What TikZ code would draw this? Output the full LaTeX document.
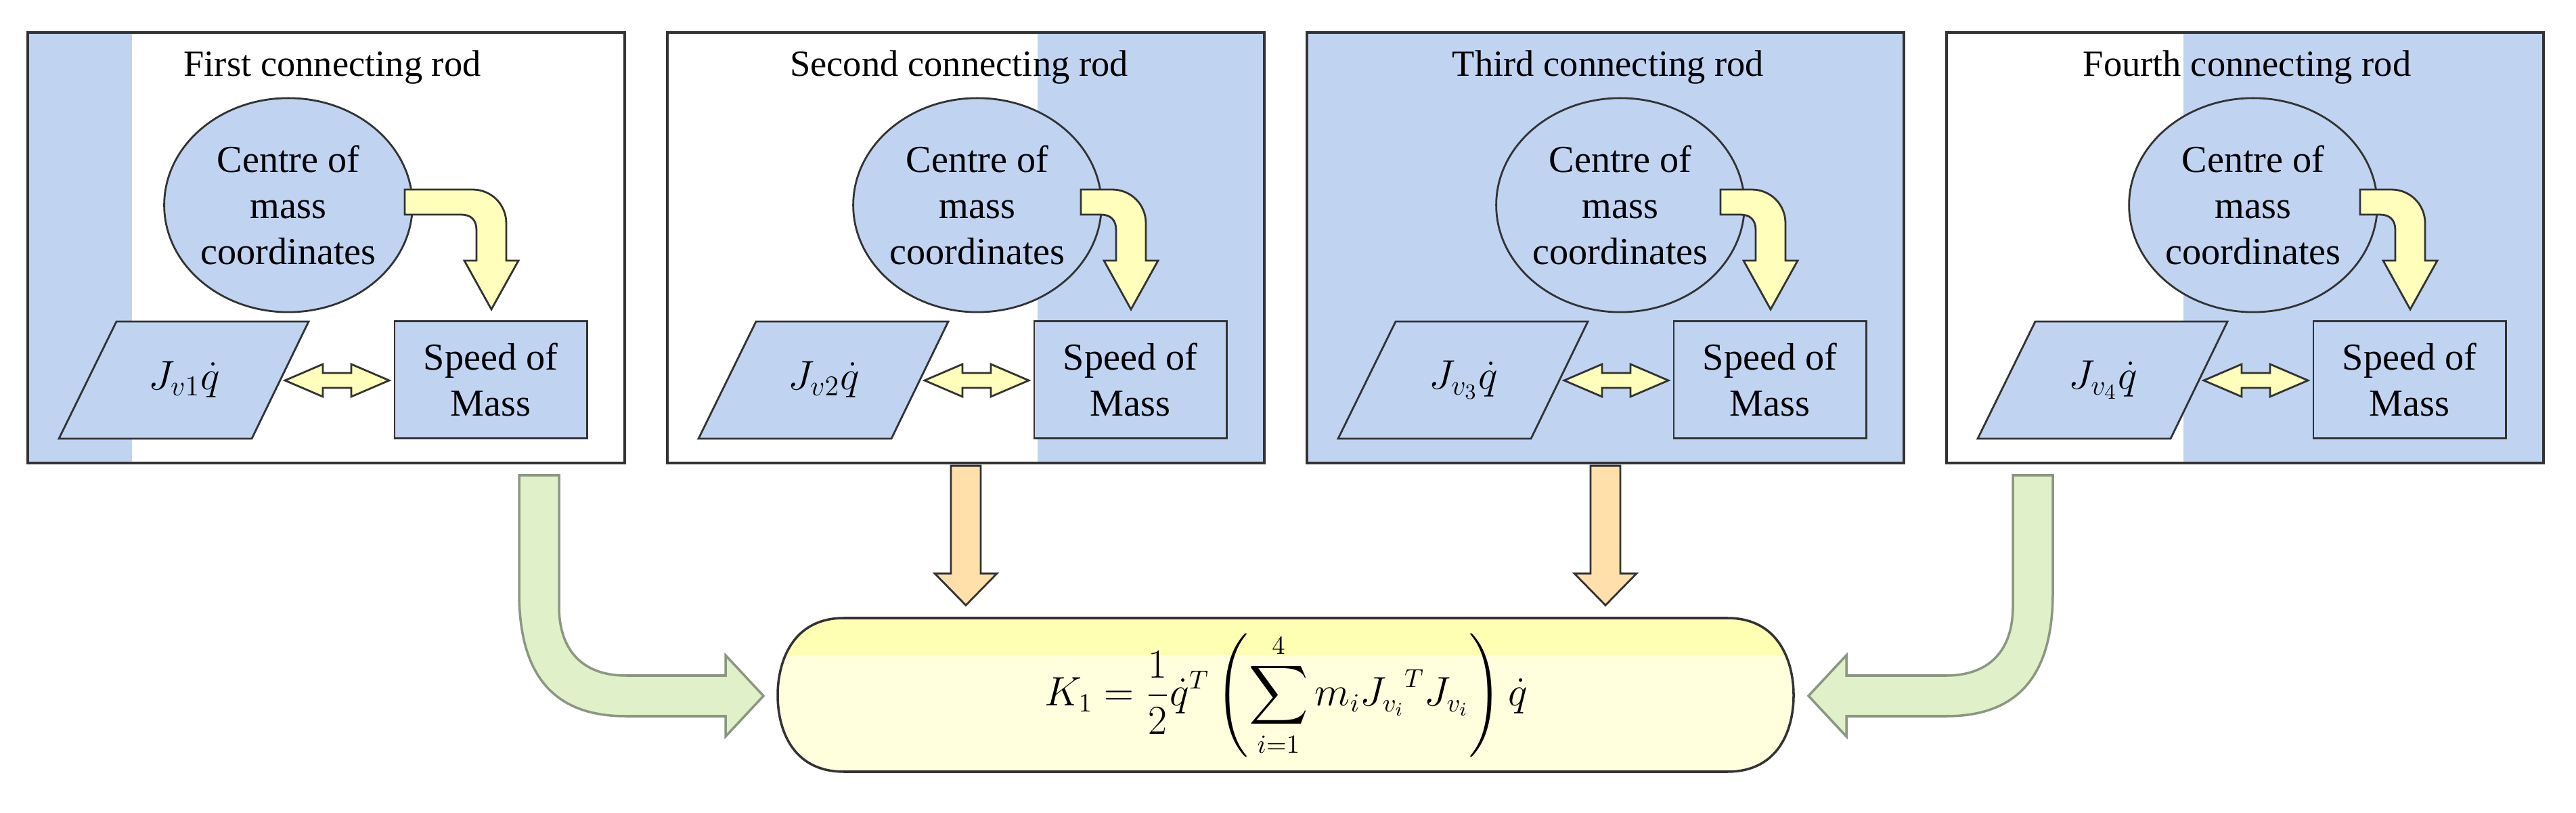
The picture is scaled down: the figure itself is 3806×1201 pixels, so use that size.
\documentclass[tikz,border=0pt]{standalone}
\usepackage{amsmath}
\usepackage{fontspec}
\setmainfont{Liberation Serif}
\usetikzlibrary{positioning}
\usetikzlibrary{calc}
\usetikzlibrary{shapes.geometric}
\definecolor{rodblue}{RGB}{192,212,242}
\definecolor{edgegray}{RGB}{51,51,51}
\definecolor{arrowyellow}{RGB}{255,255,187}
\definecolor{arroworange}{RGB}{255,224,170}
\definecolor{arrowgreen}{RGB}{224,240,200}
\definecolor{greenedge}{RGB}{140,150,130}
\definecolor{capsuletop}{RGB}{255,255,180}
\definecolor{capsulebody}{RGB}{255,255,222}

\begin{document}
\begin{tikzpicture}[x=0.01cm, y=-0.01cm,
                panel/.style={rectangle, draw=edgegray, line width=1.1pt, minimum width=8.82cm, minimum height=6.36cm, inner sep=0},
                bluenode/.style={draw=edgegray, fill=rodblue, line width=0.8pt},
                comnode/.style={ellipse, bluenode, minimum width=3.1cm, minimum height=3.16cm, align=center, inner sep=0, font=\fontsize{16}{19.3}\selectfont},
                speednode/.style={rectangle, bluenode, minimum width=2.84cm, minimum height=1.73cm, align=center, font=\fontsize{16}{19.3}\selectfont},
                blockarrow/.style={draw=edgegray, line width=0.8pt, line join=miter},
                ]
    \useasboundingbox (0,0) rectangle (3806,1201);

    \foreach \L/\rodname/\tx/\ex/\bs/\be/\jac/\s [count=\n] in
        {41/First/450/385/0/154/{J_{v1}}/557,
         986/Second/431/458/547/882/{J_{v2}}/611,
         1931/Third/445/463/0/882/{J_{v_3}}/611,
         2876/Fourth/444/453/350/882/{J_{v_4}}/611}{
        \fill[rodblue] (\L+\bs,48) rectangle (\L+\be,684);
        \node[panel] (frame\n) at (\L+441,366) {};
        \node[anchor=base, font=\fontsize{15.5}{18}\selectfont] (title\n) at (\L+\tx,113) {\rodname\ connecting rod};
        \node[comnode] (com\n) at (\L+\ex,303) {Centre of\\mass\\coordinates};
        \node[speednode] (speed\n) at (\L+684,561) {Speed of\\Mass};
        \coordinate (jc\n) at (\L+231,561);
        \draw[bluenode] ($(jc\n)+(-100,-86)$) -- ($(jc\n)+(184,-86)$) -- ($(jc\n)+(100,87)$) -- ($(jc\n)+(-185,87)$) -- cycle;
        \node[font=\fontsize{18}{20}\selectfont] (jac\n) at (jc\n) {$\jac\dot{q}$};
        % bent arrow from the centre of mass to the speed
        \draw[blockarrow, fill=arrowyellow] (\L+\s,280) -- (\L+657,280)
            .. controls (\L+685,280) and (\L+707,302) .. (\L+707,330) -- (\L+707,385)
            -- (\L+725,385) -- (\L+685,457) -- (\L+645,385) -- (\L+663,385) -- (\L+663,340)
            .. controls (\L+663,325) and (\L+655,317) .. (\L+640,317) -- (\L+\s,317) -- cycle;
        % double arrow between jacobian and speed
        \draw[blockarrow, fill=arrowyellow, shift={(\L+457,562)}]
            (-77,0) -- (-21,-24) -- (-21,-11) -- (21,-11) -- (21,-24) -- (77,0)
            -- (21,24) -- (21,11) -- (-21,11) -- (-21,24) -- cycle;
    }

    \coordinate (kc) at (1900,1027);
    \begin{scope}
        \clip (1247,913) -- (2552,913) .. controls (2630,913) and (2650,980) .. (2650,1027)
            .. controls (2650,1075) and (2630,1140) .. (2552,1140) -- (1247,1140)
            .. controls (1169,1140) and (1149,1075) .. (1149,1027)
            .. controls (1149,980) and (1169,913) .. (1247,913);
        \fill[capsulebody] (1140,900) rectangle (2660,1150);
        \fill[capsuletop] (1140,900) rectangle (2660,968);
    \end{scope}
    \draw[edgegray, line width=1pt] (1247,913) -- (2552,913) .. controls (2630,913) and (2650,980) .. (2650,1027)
        .. controls (2650,1075) and (2630,1140) .. (2552,1140) -- (1247,1140)
        .. controls (1169,1140) and (1149,1075) .. (1149,1027)
        .. controls (1149,980) and (1169,913) .. (1247,913);
    \node[font=\fontsize{16}{18}\selectfont] (kin) at (kc) {$\displaystyle K_1=\frac{1}{2}\dot{q}^T\left(\sum_{i=1}^{4} m_i {J_{v_i}}^T J_{v_i}\right)\dot{q}$};

    % straight arrows from the middle rods
    \foreach \n in {2,3}{
        \draw[blockarrow, fill=arroworange] ($(frame\n.south)+(-22,2)$) -- ($(frame\n.south)+(-22,161)$)
            -- ($(frame\n.south)+(-46,161)$) -- ($(frame\n.south)+(0,208)$) -- ($(frame\n.south)+(46,161)$)
            -- ($(frame\n.south)+(22,161)$) -- ($(frame\n.south)+(22,2)$) -- cycle;
    }

    % curved arrows from the outer rods
    \draw[draw=greenedge, line width=1pt, fill=arrowgreen] (767,702) -- (767,875)
        .. controls (767,1000) and (820,1058) .. (925,1058) -- (1072,1058) -- (1072,1088)
        -- (1128,1028) -- (1072,968) -- (1072,998) -- (925,998)
        .. controls (860,998) and (826,960) .. (826,896) -- (826,702) -- cycle;
    \draw[draw=greenedge, line width=1pt, fill=arrowgreen] (3033,702) -- (3033,875)
        .. controls (3033,1000) and (2980,1058) .. (2875,1058) -- (2728,1058) -- (2728,1088)
        -- (2672,1028) -- (2728,968) -- (2728,998) -- (2875,998)
        .. controls (2940,998) and (2974,960) .. (2974,896) -- (2974,702) -- cycle;
\end{tikzpicture}
\end{document}
